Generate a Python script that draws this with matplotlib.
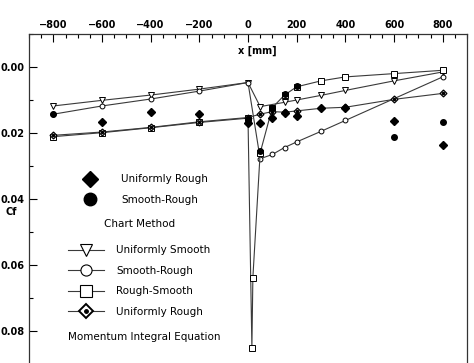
import matplotlib
matplotlib.use("Agg")
import matplotlib.pyplot as plt
from matplotlib.lines import Line2D
from matplotlib.ticker import MultipleLocator, FormatStrFormatter

# ---------------- data ----------------
# Momentum Integral Equation
us_x = [-800, -600, -400, -200, 0, 50, 150, 200, 300, 400, 600, 800]
us_cf = [0.0118, 0.0101, 0.0085, 0.0067, 0.0047, 0.0120, 0.0107, 0.0100, 0.0086, 0.0071, 0.0042, 0.0015]

sr_x = [-800, -600, -400, -200, 0, 50, 100, 150, 200, 300, 400, 800]
sr_cf = [0.0143, 0.0118, 0.0097, 0.0073, 0.0047, 0.0278, 0.0265, 0.0244, 0.0227, 0.0195, 0.0162, 0.0030]

rs_x = [-800, -600, -400, -200, 0, 16, 20, 50, 100, 150, 200, 300, 400, 600, 800]
rs_cf = [0.0211, 0.0199, 0.0184, 0.0168, 0.0155, 0.0850, 0.0638, 0.0260, 0.0123, 0.0085, 0.0060, 0.0042, 0.0030, 0.0020, 0.0010]

ur_x = [-800, -600, -400, -200, 0, 50, 100, 150, 200, 300, 400, 600, 800]
ur_cf = [0.0207, 0.0197, 0.0183, 0.0166, 0.0153, 0.0143, 0.0135, 0.0137, 0.0133, 0.0125, 0.0122, 0.0098, 0.0080]

# Chart Method
csr_x = [-800, 0, 50, 100, 150, 200, 600, 800]
csr_cf = [0.0143, 0.0159, 0.0255, 0.0123, 0.0083, 0.0058, 0.0211, 0.0167]

cur_x = [-600, -400, -200, 0, 50, 100, 150, 200, 300, 400, 600, 800]
cur_cf = [0.0167, 0.0135, 0.0143, 0.0169, 0.0169, 0.0154, 0.0138, 0.0148, 0.0123, 0.0123, 0.0165, 0.0237]

x_ticks = [-800, -600, -400, -200, 0, 200, 400, 600, 800]
y_ticks = [0.00, 0.02, 0.04, 0.06, 0.08]

# ---------------- figure ----------------
plt.rcParams['font.family'] = ['DejaVu Sans']
fig = plt.figure(figsize=(4.74, 3.63), dpi=100)
W, H = 474, 363
ax_l, ax_r, ax_t = 29, 467, 34
ax_h = 331.7
ax = fig.add_axes([ax_l / W, 1 - (ax_t + ax_h) / H, (ax_r - ax_l) / W, ax_h / H])

lc = '#3a3a3a'
lw = 0.8
ms = 4

ax.plot(us_x, us_cf, color=lc, lw=lw, marker='v', ms=ms, mfc='white', mec='black', mew=0.7)
ax.plot(sr_x, sr_cf, color=lc, lw=lw, marker='o', ms=ms - 0.5, mfc='white', mec='black', mew=0.7)
ax.plot(rs_x, rs_cf, color=lc, lw=lw, marker='s', ms=ms - 0.3, mfc='white', mec='black', mew=0.7)
ax.plot(ur_x, ur_cf, color=lc, lw=lw, marker='D', ms=ms - 0.5, mfc='white', mec='black', mew=0.9)
ax.plot(ur_x, ur_cf, ls='none', marker='o', ms=1.6, color='black')

ax.plot(csr_x, csr_cf, ls='none', marker='o', ms=4, color='black')
ax.plot(cur_x, cur_cf, ls='none', marker='D', ms=3.6, color='black')

ax.set_xlim(-900, 900)
ax.set_ylim(0.0905, -0.01)

ax.xaxis.tick_top()
ax.set_xticks(x_ticks)
ax.xaxis.set_minor_locator(MultipleLocator(50))
ax.set_yticks(y_ticks)
ax.yaxis.set_minor_locator(MultipleLocator(0.01))
ax.yaxis.set_major_formatter(FormatStrFormatter('%.2f'))
ax.tick_params(which='both', direction='in', labelsize=7, width=0.8,
               top=True, bottom=False, left=True, right=False, pad=3)
ax.tick_params(which='major', length=6)
ax.tick_params(which='minor', length=3)
for lab in ax.get_xticklabels() + ax.get_yticklabels():
    lab.set_fontweight('bold')
for s in ax.spines.values():
    s.set_linewidth(0.9)
    s.set_color('#333333')

ax.text(0.521, 0.949, 'x [mm]', transform=ax.transAxes, ha='center', va='center',
        fontsize=7, fontweight='bold')
fig.text(5 / W, 1 - 212 / H, 'Cf', ha='left', va='center', fontsize=7, fontweight='bold')

# legends
h_cur = Line2D([], [], ls='none', marker='D', ms=8, color='black')
h_csr = Line2D([], [], ls='none', marker='o', ms=9, color='black')
leg1 = ax.legend([h_cur, h_csr], ['Uniformly Rough', 'Smooth-Rough'],
                 loc='center left', bbox_to_anchor=(0.1155, 0.531), frameon=False,
                 fontsize=7.5, handlelength=2.0, handletextpad=2.0, labelspacing=1.0,
                 borderpad=0, borderaxespad=0)
ax.add_artist(leg1)

h_us = Line2D([], [], color=lc, lw=lw, marker='v', ms=8, mfc='white', mec='black', mew=0.8)
h_sr = Line2D([], [], color=lc, lw=lw, marker='o', ms=8, mfc='white', mec='black', mew=0.8)
h_rs = Line2D([], [], color=lc, lw=lw, marker='s', ms=8, mfc='white', mec='black', mew=0.8)
h_ur = Line2D([], [], color=lc, lw=lw, marker='D', ms=7, mfc='white', mec='black', mew=1.4)
h_urd = Line2D([], [], ls='none', marker='o', ms=2.5, color='black')
leg2 = ax.legend([h_us, h_sr, h_rs, (h_ur, h_urd)],
                 ['Uniformly Smooth', 'Smooth-Rough', 'Rough-Smooth', 'Uniformly Rough'],
                 loc='center left', bbox_to_anchor=(0.089, 0.2553), frameon=False,
                 fontsize=7.5, handlelength=3.5, handletextpad=1.1, labelspacing=1.0,
                 borderpad=0, borderaxespad=0)

ax.text(0.253, 0.427, 'Chart Method', transform=ax.transAxes, ha='center', va='center', fontsize=7.5)
ax.text(0.089, 0.0865, 'Momentum Integral Equation', transform=ax.transAxes, ha='left',
        va='center', fontsize=7.5)

fig.savefig('out.png', dpi=100)
